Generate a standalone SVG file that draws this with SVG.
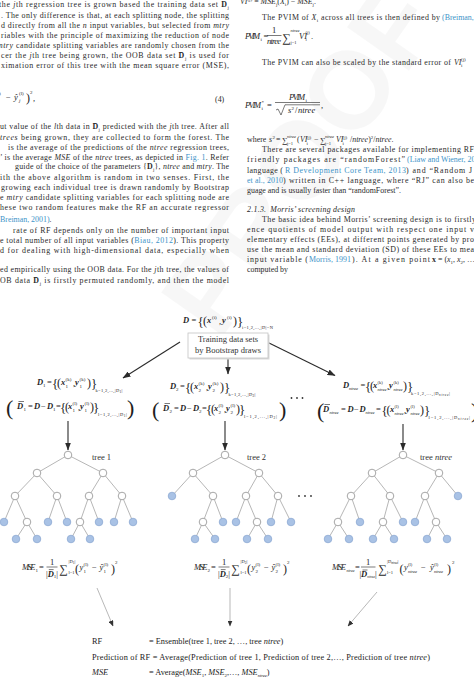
<svg xmlns="http://www.w3.org/2000/svg" width="474" height="678" viewBox="0 0 474 678">
<style>
.t{font-family:"Liberation Serif","DejaVu Serif",serif;font-size:7.9px;fill:#2b2b2b}
.lk{fill:#3d93c8}
.i{font-style:italic}
.bd{font-weight:bold}
.m{font-family:"Liberation Serif","DejaVu Serif",serif;font-size:8.5px;fill:#1e1e1e}
.bi{font-weight:bold;font-style:italic}
.s{font-size:5px}
.ss{font-size:4.5px}
.br{font-size:13px}
.pa{font-size:12px}
.bp{font-size:22px}
.sg{font-size:12px}
.e{stroke:#a3a3a3;stroke-width:0.8;fill:none}
.n{fill:#fff;stroke:#9c9c9c;stroke-width:0.9}
.l{fill:#a9c2e5;stroke:#8ea9d3;stroke-width:0.8}
.ar{stroke:#2b2b2b;stroke-width:1.1;fill:none}
.thin{stroke:#9a9a9a;stroke-width:0.7;fill:none}
.ob{stroke:#222;stroke-width:0.6}
.lab{font-family:"Liberation Serif","DejaVu Serif",serif;font-size:8.5px;fill:#333}
.res{font-family:"Liberation Serif","DejaVu Serif",serif;font-size:8.3px;fill:#222}
.dot{fill:#333}
</style>
<defs>
<marker id="ah" markerWidth="8" markerHeight="6" refX="7.5" refY="3" orient="auto" markerUnits="userSpaceOnUse"><path d="M0,0 L8,3 L0,6 z" fill="#2b2b2b"/></marker>
<marker id="ah2" markerWidth="6" markerHeight="5" refX="5.5" refY="2.5" orient="auto" markerUnits="userSpaceOnUse"><path d="M0,0 L6,2.5 L0,5 z" fill="#333"/></marker>
</defs>
<rect width="474" height="678" fill="#fff"/>
<text id="watermark" transform="translate(300,160) rotate(-55)" text-anchor="middle" y="38" font-family="Liberation Sans,sans-serif" font-size="110" font-weight="bold" fill="#000" fill-opacity="0.03">PROOF</text>

<g id="page-left" class="t">
<text x="-1" y="7" textLength="230">the <tspan class="i">j</tspan>th regression tree is grown based the training data set <tspan class="bd">D</tspan><tspan class="s" dy="1.8">j</tspan></text>
<text x="1" y="18" textLength="228">. The only difference is that, at each splitting node, the splitting</text>
<text x="1" y="28" textLength="228">d directly from all the <tspan class="i">n</tspan> input variables, but selected from <tspan class="i">mtry</tspan></text>
<text x="1" y="38" textLength="228">riables with the principle of maximizing the reduction of node</text>
<text x="-3" y="48" textLength="232"><tspan class="i">mtry</tspan> candidate splitting variables are randomly chosen from the</text>
<text x="1" y="58" textLength="228">cer the <tspan class="i">j</tspan>th tree being grown, the OOB data set <tspan class="bd">D&#x304;</tspan><tspan class="s" dy="1.8">j</tspan><tspan dy="-1.8"> is used for</tspan></text>
<text x="1" y="68" textLength="228">ximation error of this tree with the mean square error (MSE),</text>
<text x="215" y="102">(4)</text>
<text x="0" y="129" textLength="229">ut value of the <tspan class="i">l</tspan>th data in <tspan class="bd">D&#x304;</tspan><tspan class="s" dy="1.8">j</tspan><tspan dy="-1.8"> predicted with the </tspan><tspan class="i">j</tspan>th tree. After all</text>
<text x="0" y="140" textLength="229"><tspan class="i">trees</tspan> being grown, they are collected to form the forest. The</text>
<text x="8" y="150" textLength="221">is the average of the predictions of the <tspan class="i">ntree</tspan> regression trees,</text>
<text x="0" y="160" textLength="229">&#x2019; is the average <tspan class="i">MSE</tspan> of the <tspan class="i">ntree</tspan> trees, as depicted in <tspan class="lk">Fig. 1</tspan>. Refer</text>
<text x="15" y="169" textLength="214">guide of the choice of the parameters {<tspan class="bd">D</tspan><tspan class="s" dy="1.8">j</tspan><tspan dy="-1.8">}, </tspan><tspan class="i">ntree</tspan> and <tspan class="i">mtry</tspan>. The</text>
<text x="0" y="180" textLength="229">ith the above algorithm is random in two senses. First, the</text>
<text x="1" y="190" textLength="228">growing each individual tree is drawn randomly by Bootstrap</text>
<text x="0" y="200" textLength="229">e <tspan class="i">mtry</tspan> candidate splitting variables for each splitting node are</text>
<text x="0" y="210" textLength="229">hese two random features make the RF an accurate regressor</text>
<text x="0" y="222"><tspan class="lk">Breiman, 2001)</tspan>.</text>
<text x="13" y="233" textLength="216">rate of RF depends only on the number of important input</text>
<text x="0" y="243" textLength="229">e total number of all input variables (<tspan class="lk">Biau, 2012</tspan>). This property</text>
<text x="0" y="253" textLength="229">d for dealing with high-dimensional data, especially when</text>
<text x="0" y="272" textLength="229">ed empirically using the OOB data. For the <tspan class="i">j</tspan>th tree, the values of</text>
<text x="0" y="283" textLength="229">OB data <tspan class="bd">D&#x304;</tspan><tspan class="s" dy="1.8">j</tspan><tspan dy="-1.8"> is firstly permuted randomly, and then the model</tspan></text>
</g>

<g id="eq4" class="m">
<text x="-4" y="95" class="s">(l)</text>
<text x="6" y="100">&#x2212;</text>
<text x="14" y="100" class="i">&#x177;</text>
<text x="19" y="95" class="s">(l)</text>
<text x="19" y="102" class="s i">j</text>
<text x="26" y="102" class="pa">)</text>
<text x="30" y="94" class="s">2</text>
<text x="33" y="101">,</text>
</g>

<g id="page-right" class="t">
<text x="240" y="4"><tspan class="i">VI</tspan><tspan class="s" dy="-3">(j)</tspan><tspan dy="3"> = </tspan><tspan class="i">MSE</tspan><tspan class="s" dy="1.8">j</tspan><tspan dy="-1.8">(</tspan><tspan class="i">X</tspan><tspan class="s" dy="1.8">i</tspan><tspan dy="-1.8">) &#x2212; </tspan><tspan class="i">MSE</tspan><tspan class="s" dy="1.8">j</tspan><tspan dy="-1.8">.</tspan></text>
<text x="262" y="20" textLength="178">The PVIM of <tspan class="i">X</tspan><tspan class="s" dy="1.8">i</tspan><tspan dy="-1.8"> across all trees is then defined by</tspan></text>
<text x="442" y="20" class="lk">(Breiman, 2001)</text>
<text x="262" y="65" textLength="189">The PVIM can also be scaled by the standard error of</text>
<text x="454" y="65" class="i">VI</text><text x="461" y="61" class="s">(j)</text><text x="461" y="67" class="s">i</text>
<text y="142"><tspan x="247">where</tspan><tspan x="269" class="i">s</tspan><tspan x="272.5" y="139" class="s">2</tspan><tspan x="276" y="142">=</tspan><tspan x="282" y="143">&#x2211;</tspan><tspan x="287" y="138" class="ss i">ntree</tspan><tspan x="287" y="145" class="ss">j=1</tspan><tspan x="297" y="142">(</tspan><tspan x="300" class="i">VI</tspan><tspan x="306.5" y="138.5" class="s">(j)</tspan><tspan x="306.5" y="144.5" class="s">i</tspan><tspan x="314" y="142">&#x2212;</tspan><tspan x="320" y="143">&#x2211;</tspan><tspan x="325" y="138" class="ss i">ntree</tspan><tspan x="325" y="145" class="ss">j=1</tspan><tspan x="336" y="142" class="i">VI</tspan><tspan x="342.5" y="138.5" class="s">(j)</tspan><tspan x="342.5" y="144.5" class="s">i</tspan><tspan x="350" y="142">/</tspan><tspan class="i">ntree</tspan><tspan>)</tspan><tspan class="s" dy="-3">2</tspan><tspan dy="3">/</tspan><tspan class="i">ntree</tspan><tspan>.</tspan></text>
<text x="262" y="152" textLength="212">There are several packages available for implementing RF</text>
<text x="247" y="162" textLength="158">friendly packages are &#x201C;randomForest&#x201D;</text>
<text x="407" y="162" class="lk">(Liaw and Wiener, 2002)</text>
<text x="247" y="173" textLength="36">language (</text>
<text x="285" y="173" class="lk" textLength="121">R Development Core Team, 2013</text>
<text x="406" y="173" textLength="66">) and &#x201C;Random J</text>
<text x="247" y="183" class="lk" textLength="36">et al., 2010</text>
<text x="283" y="183" textLength="191">) written in C++ language, where &#x201C;RJ&#x201D; can also be</text>
<text x="247" y="193">guage and is usually faster than &#x201C;randomForest&#x201D;.</text>
<text x="247" y="212" class="i" textLength="108">2.1.3.<tspan dx="4">Morris&#x2019; screening design</tspan></text>
<text x="262" y="222" textLength="214">The basic idea behind Morris&#x2019; screening design is to firstly</text>
<text x="247" y="232" textLength="227">ence quotients of model output with respect one input v</text>
<text x="247" y="242" textLength="227">elementary effects (EEs), at different points generated by pro</text>
<text x="247" y="252" textLength="227">use the mean and standard deviation (SD) of these EEs to mea</text>
<text x="247" y="262" textLength="61">input variable (</text>
<text x="309" y="262" class="lk" textLength="42">Morris, 1991</text>
<text x="352" y="262" textLength="78">). At a given point</text>
<text x="432" y="262" class="bd">x</text>
<text x="438" y="262">= (<tspan class="i">x</tspan><tspan class="s" dy="1.5">1</tspan><tspan dy="-1.5">, </tspan><tspan class="i">x</tspan><tspan class="s" dy="1.5">2</tspan><tspan dy="-1.5">, &#x2026;</tspan></text>
<text x="247" y="272">computed by</text>
</g>

<g id="eq-pvim" class="m">
<text x="245" y="39" class="i" textLength="15">PVIM</text><text x="260.5" y="41" class="s">i</text>
<text x="263.5" y="39">=</text>
<text x="274" y="33" text-anchor="middle">1</text>
<line x1="267" y1="35.5" x2="281.5" y2="35.5" class="ob"/>
<text x="274" y="44" text-anchor="middle" class="i" textLength="14">ntree</text>
<text x="282" y="42" class="sg">&#x2211;</text>
<text x="290.5" y="32" class="ss i">ntree</text>
<text x="290.5" y="44" class="ss">j=1</text>
<text x="299" y="39" class="i">VI</text>
<text x="305.5" y="34" class="ss">(j)</text>
<text x="305.5" y="41" class="ss">i</text>
<text x="311" y="39">.</text>
</g>

<g id="eq-pvim-star" class="m">
<text x="245" y="108" class="i" textLength="16">PVIM</text><text x="261.5" y="104" class="s">*</text><text x="261.5" y="110" class="s">i</text>
<text x="267" y="108">=</text>
<text x="289" y="100" class="i" textLength="16">PVIM</text><text x="305.5" y="102" class="s">i</text>
<line x1="275" y1="102.5" x2="320" y2="102.5" class="ob"/>
<path d="M276,110 L278,109 L281,115 L285,104.8 L320,104.8" fill="none" stroke="#222" stroke-width="0.6"/>
<text x="288" y="113" class="i">s</text><text x="291.5" y="109.5" class="s">2</text><text x="295" y="113">/</text><text x="298" y="113" class="i">ntree</text>
<text x="321" y="108">,</text>
</g>

<g id="connectors">
<line x1="180" y1="342" x2="123" y2="378" class="ar" marker-end="url(#ah)"/>
<line x1="228" y1="358" x2="228" y2="374" class="ar" marker-end="url(#ah)"/>
<line x1="267" y1="342" x2="335" y2="375.5" class="ar" marker-end="url(#ah)"/>
<line x1="68" y1="421" x2="68" y2="450" class="ar" marker-end="url(#ah)"/>
<line x1="225" y1="421" x2="225" y2="450" class="ar" marker-end="url(#ah)"/>
<line x1="403" y1="424" x2="403" y2="450" class="ar" marker-end="url(#ah)"/>
<line x1="97" y1="588" x2="113" y2="626" class="thin" marker-end="url(#ah2)"/>
<line x1="230" y1="588" x2="230" y2="626" class="thin" marker-end="url(#ah2)"/>
<line x1="377" y1="592" x2="348" y2="626" class="thin" marker-end="url(#ah2)"/>
<g id="tree1-edges" class="e">
<path d="M37,473 L68,455 L103,473 M15,496 L37,473 L57,496 M89,496 L103,473 L122,496 M4,522 L15,496 L27,522 M48,522 L57,496 L67,522 M80,522 L89,496 L99,522 M114,522 L122,496 L133,522 M16,539 L27,522 L37,539 M71,539 L80,522 L90,539"/>
</g>
<g id="tree2-edges" class="e">
<path d="M193,473 L225,455 L259,473 M172,496 L193,473 L213,496 M203,522 L213,496 L223,522 M195,539 L203,522 L215,539 M246,496 L259,473 L278,496 M236,522 L246,496 L257,522 M247,539 L257,522 L268,539 M271,522 L278,496 L291,522"/>
</g>
<g id="treen-edges" class="e">
<path d="M372,473 L403,455 L439,473 M351,496 L372,473 L390,496 M338,522 L351,496 L360,522 M328,539 L338,522 L349,539 M383,522 L390,496 L403,522 M373,539 L383,522 L394,539 M425,496 L439,473 L458,496 M415,522 L425,496 L436,522 M427,539 L436,522 L447,539"/>
</g>
</g>

<g id="dataset-D" class="m">
<text x="183" y="323" class="bi">D</text>
<text x="191.5" y="323">=</text>
<text x="197.5" y="326" class="br">{</text>
<text x="203" y="325" class="pa">(</text>
<text x="207" y="323" class="bi">x</text>
<text x="212" y="318.5" class="s">(i)</text>
<text x="219" y="324">,</text>
<text x="222" y="323" class="bi">y</text>
<text x="227" y="318.5" class="s">(i)</text>
<text x="233" y="325" class="pa">)</text>
<text x="237" y="326" class="br">}</text>
<text x="242" y="329" class="ss" textLength="31">i=1,2,...,|D|=N</text>
</g>

<g id="bootstrap-box">
<rect x="189.5" y="334.5" width="80" height="25" fill="#d9d9d9"/>
<rect x="188" y="333" width="80" height="25" fill="#fff" stroke="#c4c4c4" stroke-width="0.8"/>
<text x="228" y="341.5" text-anchor="middle" class="lab">Training data sets</text>
<text x="228" y="352.5" text-anchor="middle" class="lab">by Bootstrap draws</text>
</g>

<g id="D1" class="m">
<text x="37" y="385" class="bi">D</text><text x="43" y="387" class="s">1</text>
<text x="47" y="385">=</text>
<text x="52" y="388" class="br">{</text>
<text x="57" y="387" class="pa">(</text>
<text x="61" y="385" class="bi">x</text><text x="65.5" y="381" class="s">(k)</text><text x="65.5" y="388" class="s">1</text>
<text x="73" y="386">,</text>
<text x="75" y="385" class="bi">y</text><text x="79.5" y="381" class="s">(k)</text><text x="79.5" y="388" class="s">1</text>
<text x="87" y="387" class="pa">)</text>
<text x="91" y="388" class="br">}</text>
<text x="95.5" y="392" class="ss" textLength="27">k=1,2,...,|D<tspan font-size="3.5" dy="1">1</tspan><tspan dy="-1">|</tspan></text>
</g>

<g id="D2" class="m" transform="translate(133,4)">
<text x="37" y="385" class="bi">D</text><text x="43" y="387" class="s">2</text>
<text x="47" y="385">=</text>
<text x="52" y="388" class="br">{</text>
<text x="57" y="387" class="pa">(</text>
<text x="61" y="385" class="bi">x</text><text x="65.5" y="381" class="s">(k)</text><text x="65.5" y="388" class="s">2</text>
<text x="73" y="386">,</text>
<text x="75" y="385" class="bi">y</text><text x="79.5" y="381" class="s">(k)</text><text x="79.5" y="388" class="s">2</text>
<text x="87" y="387" class="pa">)</text>
<text x="91" y="388" class="br">}</text>
<text x="95.5" y="392" class="ss" textLength="27">k=1,2,...,|D<tspan font-size="3.5" dy="1">2</tspan><tspan dy="-1">|</tspan></text>
</g>

<g id="D1bar" class="m">
<text x="6" y="415" class="bp">(</text>
<text x="17" y="409" class="bi">D</text><line x1="18.5" y1="401.5" x2="24" y2="401.5" class="ob"/><text x="23.5" y="411" class="s">1</text>
<text x="28" y="409">=</text>
<text x="34" y="409" class="bi">D</text>
<text x="41" y="409">&#x2212;</text>
<text x="47" y="409" class="bi">D</text><text x="53" y="411" class="s">1</text>
<text x="56" y="409">=</text>
<text x="60" y="412" class="br">{</text>
<text x="65" y="411" class="pa">(</text>
<text x="68" y="409" class="bi">x</text><text x="72.5" y="405" class="s">(l)</text><text x="72.5" y="412" class="s">1</text>
<text x="78" y="410">,</text>
<text x="80" y="409" class="bi">y</text><text x="84.5" y="405" class="s">(l)</text><text x="84.5" y="412" class="s">1</text>
<text x="90" y="411" class="pa">)</text>
<text x="93" y="412" class="br">}</text>
<text x="98" y="416" class="ss" textLength="29">l=1,2,...,|D<tspan font-size="3.5" dy="1">1</tspan><tspan dy="-1">|</tspan></text>
<text x="127" y="415" class="bp">)</text>
</g>

<g id="D2bar" class="m" transform="translate(146,2)">
<text x="6" y="415" class="bp">(</text>
<text x="17" y="409" class="bi">D</text><line x1="18.5" y1="401.5" x2="24" y2="401.5" class="ob"/><text x="23.5" y="411" class="s">2</text>
<text x="28" y="409">=</text>
<text x="34" y="409" class="bi">D</text>
<text x="41" y="409">&#x2212;</text>
<text x="47" y="409" class="bi">D</text><text x="53" y="411" class="s">2</text>
<text x="56" y="409">=</text>
<text x="60" y="412" class="br">{</text>
<text x="65" y="411" class="pa">(</text>
<text x="68" y="409" class="bi">x</text><text x="72.5" y="405" class="s">(l)</text><text x="72.5" y="412" class="s">2</text>
<text x="78" y="410">,</text>
<text x="80" y="409" class="bi">y</text><text x="84.5" y="405" class="s">(l)</text><text x="84.5" y="412" class="s">2</text>
<text x="90" y="411" class="pa">)</text>
<text x="93" y="412" class="br">}</text>
<text x="98" y="416" class="ss" textLength="33">l=1,2,...,|D<tspan font-size="3.5" dy="1">2</tspan><tspan dy="-1">|</tspan></text>
<text x="133" y="415" class="bp">)</text>
</g>

<g id="ellipsis-data" class="dot"><circle cx="291.5" cy="398" r="0.9"/><circle cx="297" cy="398" r="0.9"/><circle cx="302.5" cy="398" r="0.9"/></g>

<g id="Dntree" class="m">
<text x="343" y="388" class="bi">D</text><text x="349" y="390" class="ss i">ntree</text>
<text x="360.5" y="388">=</text>
<text x="365" y="391" class="br">{</text>
<text x="370" y="390" class="pa">(</text>
<text x="373" y="388" class="bi">x</text><text x="377.5" y="384" class="ss">(k)</text><text x="377.5" y="391" class="ss i">ntree</text>
<text x="387" y="389">,</text>
<text x="389" y="388" class="bi">y</text><text x="393.5" y="384" class="ss">(k)</text><text x="393.5" y="391" class="ss i">ntree</text>
<text x="403" y="390" class="pa">)</text>
<text x="407" y="391" class="br">}</text>
<text x="411" y="395" class="ss" textLength="39">k=1,2,...,|D<tspan font-size="3.3" dy="1" font-style="italic">ntree</tspan><tspan dy="-1">|</tspan></text>
</g>

<g id="Dntree-bar" class="m">
<text x="317" y="418" class="bp">(</text>
<text x="323" y="412" class="bi">D</text><line x1="324.5" y1="404.5" x2="330" y2="404.5" class="ob"/><text x="329.5" y="414" class="ss i">ntree</text>
<text x="341" y="412">=</text>
<text x="347.5" y="412" class="bi">D</text>
<text x="354" y="412">&#x2212;</text>
<text x="359.5" y="412" class="bi">D</text><text x="365.5" y="414" class="ss i">ntree</text>
<text x="376" y="412">=</text>
<text x="381.5" y="415" class="br">{</text>
<text x="386.5" y="414" class="pa">(</text>
<text x="390" y="412" class="bi">x</text><text x="394.5" y="408" class="ss">(l)</text><text x="394.5" y="415" class="ss i">ntree</text>
<text x="404" y="413">,</text>
<text x="406" y="412" class="bi">y</text><text x="410.5" y="408" class="ss">(l)</text><text x="410.5" y="415" class="ss i">ntree</text>
<text x="420" y="414" class="pa">)</text>
<text x="424" y="415" class="br">}</text>
<text x="428.5" y="419" class="ss" textLength="41.5">l=1,2,...,|D<tspan font-size="3.3" dy="1" font-style="italic">ntree</tspan><tspan dy="-1">|</tspan></text>
<text x="471" y="418" class="bp">)</text>
</g>

<g id="tree1">
<circle cx="68" cy="455" r="3.8" class="n"/>
<circle cx="37" cy="473" r="3.8" class="n"/><circle cx="103" cy="473" r="3.8" class="n"/>
<circle cx="15" cy="496" r="3.8" class="n"/><circle cx="57" cy="496" r="3.8" class="n"/><circle cx="89" cy="496" r="3.8" class="n"/><circle cx="122" cy="496" r="3.8" class="n"/>
<circle cx="4" cy="522" r="3.8" class="l"/><circle cx="27" cy="522" r="3.8" class="n"/><circle cx="48" cy="522" r="3.8" class="l"/><circle cx="67" cy="522" r="3.8" class="l"/><circle cx="80" cy="522" r="3.8" class="n"/><circle cx="99" cy="522" r="3.8" class="l"/><circle cx="114" cy="522" r="3.8" class="l"/><circle cx="133" cy="522" r="3.8" class="l"/>
<circle cx="16" cy="539" r="3.8" class="l"/><circle cx="37" cy="539" r="3.8" class="l"/><circle cx="71" cy="539" r="3.8" class="l"/><circle cx="90" cy="539" r="3.8" class="l"/>
<text x="92" y="460" class="lab">tree 1</text>
</g>

<g id="tree2">
<circle cx="225" cy="455" r="3.8" class="n"/>
<circle cx="193" cy="473" r="3.8" class="n"/><circle cx="259" cy="473" r="3.8" class="n"/>
<circle cx="172" cy="496" r="3.8" class="l"/><circle cx="213" cy="496" r="3.8" class="n"/><circle cx="246" cy="496" r="3.8" class="n"/><circle cx="278" cy="496" r="3.8" class="n"/>
<circle cx="203" cy="522" r="3.8" class="n"/><circle cx="223" cy="522" r="3.8" class="l"/><circle cx="236" cy="522" r="3.8" class="l"/><circle cx="257" cy="522" r="3.8" class="n"/><circle cx="271" cy="522" r="3.8" class="l"/><circle cx="291" cy="522" r="3.8" class="l"/>
<circle cx="195" cy="539" r="3.8" class="l"/><circle cx="215" cy="539" r="3.8" class="l"/><circle cx="247" cy="539" r="3.8" class="l"/><circle cx="268" cy="539" r="3.8" class="l"/>
<text x="247" y="460" class="lab">tree 2</text>
</g>

<g id="ellipsis-trees" class="dot"><circle cx="299" cy="496" r="0.9"/><circle cx="305" cy="496" r="0.9"/><circle cx="311" cy="496" r="0.9"/></g>

<g id="tree-ntree">
<circle cx="403" cy="455" r="3.8" class="n"/>
<circle cx="372" cy="473" r="3.8" class="n"/><circle cx="439" cy="473" r="3.8" class="n"/>
<circle cx="351" cy="496" r="3.8" class="n"/><circle cx="390" cy="496" r="3.8" class="n"/><circle cx="425" cy="496" r="3.8" class="n"/><circle cx="458" cy="496" r="3.8" class="l"/>
<circle cx="338" cy="522" r="3.8" class="n"/><circle cx="360" cy="522" r="3.8" class="l"/><circle cx="383" cy="522" r="3.8" class="n"/><circle cx="403" cy="522" r="3.8" class="l"/><circle cx="415" cy="522" r="3.8" class="l"/><circle cx="436" cy="522" r="3.8" class="n"/>
<circle cx="328" cy="539" r="3.8" class="l"/><circle cx="349" cy="539" r="3.8" class="l"/><circle cx="373" cy="539" r="3.8" class="l"/><circle cx="394" cy="539" r="3.8" class="l"/><circle cx="427" cy="539" r="3.8" class="l"/><circle cx="447" cy="539" r="3.8" class="l"/>
<text x="420" y="460" class="lab">tree <tspan class="i">ntree</tspan></text>
</g>

<g id="mse1" class="m">
<text x="22" y="570" class="i" textLength="13.5">MSE</text><text x="35.5" y="572" class="s">1</text>
<text x="39" y="570">=</text>
<text x="52" y="564.5" text-anchor="middle">1</text>
<line x1="46.5" y1="567" x2="57.5" y2="567" class="ob"/>
<text x="52" y="576.5" text-anchor="middle">|<tspan class="bi">D</tspan><tspan class="s" dy="1">1</tspan><tspan dy="-1">|</tspan></text>
<line x1="48.8" y1="569.6" x2="53.6" y2="569.6" class="ob"/>
<text x="59" y="573" class="sg">&#x2211;</text>
<text x="68.5" y="563" class="ss">|D<tspan font-size="3.5" dy="1">1</tspan><tspan dy="-1">|</tspan></text>
<text x="68.5" y="574" class="ss">l=1</text>
<text x="75" y="572.5" class="pa">(</text>
<text x="79.5" y="570" class="i">y</text><text x="83.5" y="566" class="s">(l)</text><text x="83.5" y="572.5" class="s">1</text>
<text x="92" y="570">&#x2212;</text>
<text x="99.5" y="570" class="i">&#x177;</text><text x="103.5" y="566" class="s">(l)</text><text x="103.5" y="572.5" class="s">1</text>
<text x="111" y="572.5" class="pa">)</text>
<text x="115" y="564" class="s">2</text>
</g>

<g id="mse2" class="m" transform="translate(172,0)">
<text x="22" y="570" class="i" textLength="13.5">MSE</text><text x="35.5" y="572" class="s">2</text>
<text x="39" y="570">=</text>
<text x="52" y="564.5" text-anchor="middle">1</text>
<line x1="46.5" y1="567" x2="57.5" y2="567" class="ob"/>
<text x="52" y="576.5" text-anchor="middle">|<tspan class="bi">D</tspan><tspan class="s" dy="1">2</tspan><tspan dy="-1">|</tspan></text>
<line x1="48.8" y1="569.6" x2="53.6" y2="569.6" class="ob"/>
<text x="59" y="573" class="sg">&#x2211;</text>
<text x="68.5" y="563" class="ss">|D<tspan font-size="3.5" dy="1">2</tspan><tspan dy="-1">|</tspan></text>
<text x="68.5" y="574" class="ss">l=1</text>
<text x="75" y="572.5" class="pa">(</text>
<text x="79.5" y="570" class="i">y</text><text x="83.5" y="566" class="s">(l)</text><text x="83.5" y="572.5" class="s">2</text>
<text x="92" y="570">&#x2212;</text>
<text x="99.5" y="570" class="i">&#x177;</text><text x="103.5" y="566" class="s">(l)</text><text x="103.5" y="572.5" class="s">2</text>
<text x="111" y="572.5" class="pa">)</text>
<text x="115" y="564" class="s">2</text>
</g>

<g id="mse-ntree" class="m">
<text x="332" y="570" class="i" textLength="14">MSE</text><text x="346.5" y="572" class="i" font-size="4">ntree</text>
<text x="355" y="570">=</text>
<text x="368" y="564.5" text-anchor="middle">1</text>
<line x1="361" y1="567" x2="375.5" y2="567" class="ob"/>
<text x="368" y="577" text-anchor="middle">|<tspan class="bi">D</tspan><tspan class="i" font-size="3.8" dy="1">ntree</tspan><tspan dy="-1">|</tspan></text>
<line x1="362.5" y1="570" x2="367.5" y2="570" class="ob"/>
<text x="378" y="573" class="sg">&#x2211;</text>
<text x="387" y="563" class="ss">|D<tspan font-size="3.2" dy="1" font-style="italic">ntree</tspan><tspan dy="-1">|</tspan></text>
<text x="387" y="574" class="ss">l=1</text>
<text x="399.5" y="572.5" class="pa">(</text>
<text x="404" y="570" class="i">y</text><text x="408" y="566" class="ss">(l)</text><text x="408" y="572.5" class="ss i">ntree</text>
<text x="421" y="570">&#x2212;</text>
<text x="430" y="570" class="i">&#x177;</text><text x="434" y="566" class="ss">(l)</text><text x="434" y="572.5" class="ss i">ntree</text>
<text x="447" y="572.5" class="pa">)</text>
<text x="452" y="564" class="s">2</text>
</g>

<g id="result" class="res">
<text x="92" y="644">RF</text>
<text x="149" y="644">= Ensemble(tree 1, tree 2, &#x2026;, tree <tspan class="i">ntree</tspan>)</text>
<text x="92" y="660" textLength="338">Prediction of RF = Average(Prediction of tree 1, Prediction of tree 2,&#x2026;, Prediction of tree <tspan class="i">ntree</tspan>)</text>
<text x="92" y="675" class="i">MSE</text>
<text x="149" y="675">= Average(<tspan class="i">MSE</tspan><tspan class="s" dy="1.5">1</tspan><tspan dy="-1.5">, </tspan><tspan class="i">MSE</tspan><tspan class="s" dy="1.5">2</tspan><tspan dy="-1.5">,&#x2026;, </tspan><tspan class="i">MSE</tspan><tspan class="ss i" dy="1.5">ntree</tspan><tspan dy="-1.5">)</tspan></text>
</g>
</svg>
